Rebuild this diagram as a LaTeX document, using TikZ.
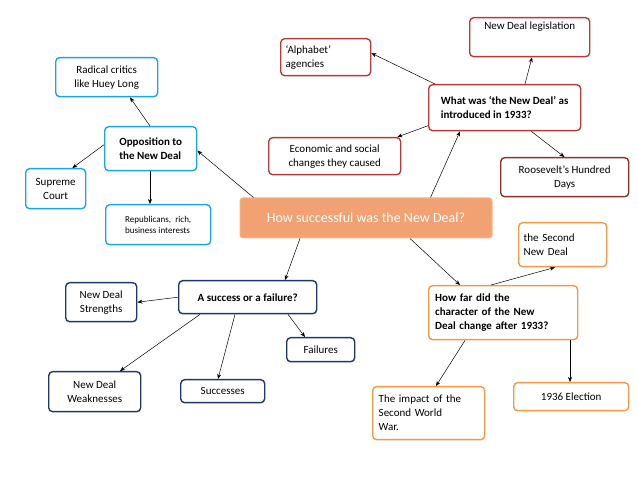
\documentclass[tikz,border=0pt]{standalone}
\usepackage{fontspec}
\setmainfont{Carlito}
\usetikzlibrary{arrows.meta}
\definecolor{redb}{HTML}{B83A3A}
\definecolor{cyanb}{HTML}{1AA7E0}
\definecolor{navyb}{HTML}{1F3864}
\definecolor{orangeb}{HTML}{F79646}
\definecolor{centf}{HTML}{F2A172}
\begin{document}
\begin{tikzpicture}[x=1pt,y=-1pt,font=\fontsize{11}{14}\selectfont,
 bx/.style={draw,line width=1.4pt,rounded corners=4pt,inner sep=3pt,fill=white},
 rb/.style={bx,draw=redb},
 cb/.style={bx,draw=cyanb},
 nb/.style={bx,draw=navyb},
 ob/.style={bx,draw=orangeb},
 bf/.style={font=\fontsize{11}{14}\selectfont\bfseries},
 ar/.style={-{Stealth[length=5pt,width=4pt]},line width=0.5pt}]
\useasboundingbox (0,0) rectangle (638,478);
% center
\node[draw=orangeb!70,fill=centf,text=white,line width=1pt,rounded corners=3pt,minimum width=252pt,minimum height=40pt,font=\fontsize{14}{16}\selectfont] (c) at (366,218) {How successful was the New Deal?};
% red
\node[rb,minimum width=120pt,minimum height=39pt,anchor=north west,align=center] (leg) at (469,17) {New Deal legislation\\[10pt]\phantom{x}};
\node[rb,minimum width=90pt,minimum height=37pt,align=left,anchor=north west,text width=80pt] (alp) at (280,38) {‘Alphabet’\\agencies};
\node[rb,bf,minimum width=152pt,minimum height=46pt,align=left,anchor=north west] (what) at (428,84) {What was ‘the New Deal’ as\\introduced in 1933?};
\node[rb,minimum width=132pt,minimum height=37pt,align=center,anchor=north west] (eco) at (268,137) {Economic and social\\changes they caused};
\node[rb,draw=redb!80!black,minimum width=128pt,minimum height=39pt,align=center,anchor=north west] (roo) at (500,157) {Roosevelt’s Hundred\\Days};
% cyan
\node[cb,minimum width=102pt,minimum height=39pt,align=center,anchor=north west] (rad) at (55,57) {Radical critics\\like Huey Long};
\node[cb,bf,minimum width=92pt,minimum height=44pt,align=left,anchor=north west] (opp) at (104,126) {Opposition to\\the New Deal};
\node[cb,minimum width=60pt,minimum height=40pt,align=center,anchor=north west] (sup) at (25,168) {Supreme\\Court};
\node[cb,minimum width=105pt,minimum height=40pt,align=left,anchor=north west,font=\fontsize{9}{11}\selectfont] (rep) at (105,204) {Republicans,~ rich,\\business interests};
% navy
\node[nb,bf,minimum width=138pt,minimum height=33pt,anchor=north west] (suc) at (178,280) {A success or a failure?};
\node[nb,minimum width=71pt,minimum height=39pt,align=center,anchor=north west] (str) at (65,282) {New Deal\\Strengths};
\node[nb,minimum width=68pt,minimum height=24pt,anchor=north west] (fai) at (286,337) {Failures};
\node[nb,minimum width=92pt,minimum height=40pt,align=center,anchor=north west] (wea) at (48,371) {New Deal\\Weaknesses};
\node[nb,minimum width=84pt,minimum height=23pt,anchor=north west] (sus) at (180,379) {Successes};
% orange
\node[ob,minimum width=88pt,minimum height=44pt,align=left,anchor=north west,text width=78pt] (snd) at (518,222) {the Second\\New Deal};
\node[ob,bf,minimum width=149pt,minimum height=54pt,align=left,anchor=north west,text width=136pt] (far) at (428,285) {How far did the\\character of the New\\Deal change after 1933?};
\node[ob,minimum width=112pt,minimum height=53pt,align=left,anchor=north west,text width=100pt] (imp) at (372,386) {The impact of the\\Second World\\War.};
\node[ob,minimum width=115pt,minimum height=28pt,anchor=north west] (ele) at (513,382) {1936 Election};
% arrows
\draw[ar] ([xshift=-62pt]c.north east) -- ([xshift=32pt]what.south west);
\draw[ar] ([xshift=97pt]what.north west) -- ([xshift=63pt]leg.south west);
\draw[ar] ([xshift=7pt]what.north west) -- ([yshift=4pt]alp.east);
\draw[ar] ([yshift=-18pt]what.west) -- ([xshift=-4pt]eco.north east);
\draw[ar] ([xshift=-50pt]what.south east) -- ([xshift=-65pt]roo.north east);
\draw[ar] ([xshift=14pt]c.north west) -- ([yshift=-2pt]opp.east);
\draw[ar] ([xshift=46pt]opp.north west) -- ([xshift=75pt]rad.south west);
\draw[ar] ([yshift=4pt]opp.west) -- ([xshift=-14pt]sup.north east);
\draw[ar] ([xshift=46pt]opp.south west) -- ([xshift=45pt]rep.north west);
\draw[ar] ([xshift=-66pt]c.south) -- ([xshift=107pt]suc.north west);
\draw[ar] (suc.west) -- (str.east);
\draw[ar] ([xshift=110pt]suc.south west) -- ([xshift=19pt]fai.north west);
\draw[ar] ([xshift=22pt]suc.south west) -- ([xshift=72pt]wea.north west);
\draw[ar] ([xshift=57pt]suc.south west) -- ([xshift=38pt]sus.north west);
\draw[ar] ([xshift=44pt]c.south) -- ([xshift=32pt]far.north west);
\draw[ar] ([xshift=63pt]far.north west) -- ([xshift=37pt]snd.south west);
\draw[ar] ([xshift=37pt]far.south west) -- ([xshift=64pt]imp.north west);
\draw[ar] ([xshift=142pt]far.south west) -- ([xshift=57pt]ele.north west);
\end{tikzpicture}
\end{document}
